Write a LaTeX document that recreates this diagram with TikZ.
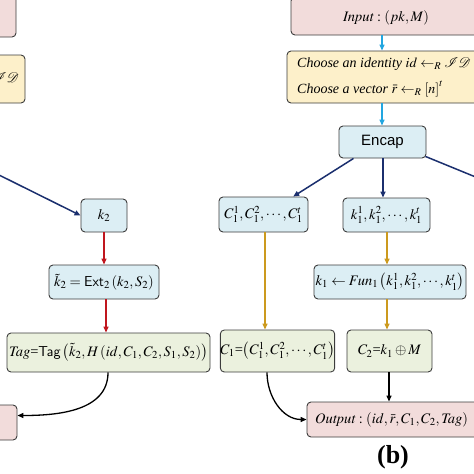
\documentclass[tikz,border=0pt]{standalone}
\usepackage{mathptmx}
\usepackage{fontspec}
\setmainfont{Liberation Serif}
\setsansfont{Liberation Sans}
\usetikzlibrary{arrows.meta,calc}
\definecolor{pinkc}{HTML}{F2DCDB}
\definecolor{yellowc}{HTML}{FDF0CA}
\definecolor{bluec}{HTML}{DCEEF4}
\definecolor{greenc}{HTML}{EBF1DE}
\definecolor{bordc}{HTML}{3C3C3C}
\definecolor{cyanc}{HTML}{22A6E0}
\definecolor{navyc}{HTML}{1B2F6E}
\definecolor{redc}{HTML}{C0161E}
\definecolor{goldc}{HTML}{CC9A1E}
\begin{document}
\begin{tikzpicture}[x=1pt,y=-1pt,
  bx/.style={draw=bordc, line width=0.9pt, rounded corners=4pt, inner sep=0pt, align=center, font=\fontsize{14.5}{16}\selectfont},
  pinkbox/.style={bx, fill=pinkc},
  yelbox/.style={bx, fill=yellowc},
  bluebox/.style={bx, fill=bluec},
  greenbox/.style={bx, fill=greenc},
  txt/.style={inner sep=0pt, font=\fontsize{14.5}{16}\selectfont},
  chtxt/.style={inner sep=0pt, font=\fontsize{14}{16}\selectfont},
  arr/.style={line width=1.3pt, -{Triangle[length=6pt,width=5pt]}},
  cyanarr/.style={arr, draw=cyanc, -{Triangle[length=6pt,width=5pt,fill=cyanc]}},
  navyarr/.style={arr, draw=navyc, line width=1.5pt},
  redarr/.style={arr, draw=redc},
  goldarr/.style={arr, draw=goldc},
  blkarr/.style={arr, draw=black},
]
\useasboundingbox (0,0) rectangle (474,474);
\clip (0,0) rectangle (474,474);

% left column (partially visible)
\node[pinkbox, minimum width=52pt, minimum height=44pt] (pinkTL) at (-10,15) {};
\node[yelbox, minimum width=125pt, minimum height=48pt] (yelL) at (-37.5,79) {};
\node[chtxt, anchor=east] (yelLt) at (19,79) {$\leftarrow_R \mathcal{ID}$};
\node[pinkbox, minimum width=47pt, minimum height=35pt] (pinkBL) at (-6.5,422.5) {};
\coordinate (lin) at (-5,173);

\node[bluebox, minimum width=46pt, minimum height=33pt] (k2) at (104,215.5) {$k_2$};
\node[bluebox, minimum width=110pt, minimum height=34pt] (k2t) at (104,282) {$\tilde k_2=\mathsf{Ext}_2\left(k_2,S_2\right)$};
\node[greenbox, minimum width=203pt, minimum height=39pt] (tag) at (108.5,352.5) {$\mathit{Tag}$=$\mathsf{Tag}\left(\tilde k_2,H\left(id,C_1,C_2,S_1,S_2\right)\right)$};

% right column
\node[pinkbox, minimum width=200pt, minimum height=38pt] (inp) at (391,16) {};
\node[txt] (inpt) at (386,18) {$\mathit{Input}:\left(pk,M\right)$};
\node[yelbox, minimum width=210pt, minimum height=52pt] (cho) at (392,77) {};
\node[chtxt, anchor=west] (cho1) at (297,64) {\textit{Choose an identity} $id\leftarrow_R \mathcal{ID}$};
\node[chtxt, anchor=west] (cho2) at (297,89) {\textit{Choose a vector} $\bar r\leftarrow_R \left[n\right]^t$};
\node[bluebox, minimum width=87pt, minimum height=32pt, font=\sffamily\fontsize{15}{17}\selectfont] (enc) at (382.5,142) {Encap};
\node[bluebox, minimum width=89pt, minimum height=35pt] (c1s) at (263.5,214.5) {$C_1^1,C_1^2,\cdots,C_1^t$};
\node[bluebox, minimum width=87pt, minimum height=34pt] (k1s) at (386.5,215) {$k_1^1,k_1^2,\cdots,k_1^t$};
\node[bluebox, minimum width=152pt, minimum height=34pt] (fun) at (390,282) {$k_1\leftarrow \mathit{Fun}_1\left(k_1^1,k_1^2,\cdots,k_1^t\right)$};
\node[greenbox, minimum width=109pt, minimum height=42pt] (c1) at (277.5,351) {$C_1$=$\left(C_1^1,C_1^2,\cdots,C_1^t\right)$};
\node[greenbox, minimum width=85pt, minimum height=42pt] (c2) at (389.5,351) {$C_2$=$k_1\oplus M$};
\node[pinkbox, minimum width=200pt, minimum height=35pt] (out) at (407,419.5) {};
\node[txt, anchor=west] (outt) at (315,420) {$\mathit{Output}:\left(id,\bar r,C_1,C_2,\mathit{Tag}\right)$};
\node[inner sep=0pt, font=\bfseries\fontsize{26}{28}\selectfont] (lab) at (393,457) {(b)};
\coordinate (rout) at (500,187);

% connectors
\draw[cyanarr] (382,35) -- (cho.north -| 382,0);
\draw[cyanarr] (cho.south -| 382,0) -- (enc.north -| 382,0);
\draw[navyarr] ($(enc.south west)!0.17!(enc.south east)$) -- ($(c1s.north east)!0.17!(c1s.north west)$);
\draw[navyarr] (enc.south -| 383,0) -- (k1s.north -| 383,0);
\draw[navyarr, -] ($(enc.south east)+(-1,-2)$) -- (rout);
\draw[navyarr] (lin) -- (k2.west);
\draw[redarr] (k2) -- (k2t);
\draw[redarr] (k2t.south -| 106,0) -- (tag.north -| 106,0);
\draw[blkarr] (tag.south -| 108,0) to[out=-90,in=0] ($(pinkBL.east)+(0,-7)$);
\draw[goldarr] (c1s.south -| 265,0) -- (c1.north -| 265,0);
\draw[goldarr] (k1s.south -| 387,0) -- (fun.north -| 387,0);
\draw[goldarr] (fun.south -| 387,0) -- (c2.north -| 387,0);
\draw[blkarr] (c2.south -| 389,0) -- (out.north -| 389,0);
\draw[blkarr] (c1.south -| 267,0) to[out=-90,in=180] (out.west);
\end{tikzpicture}
\end{document}
